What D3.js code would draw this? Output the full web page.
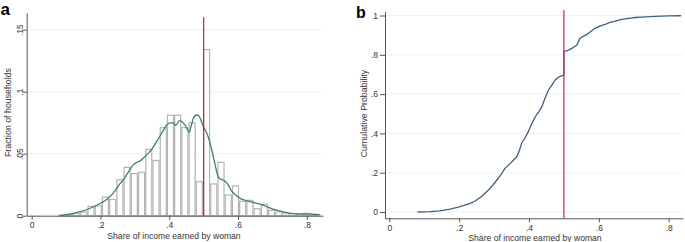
<!DOCTYPE html>
<html>
<head>
<meta charset="utf-8">
<script src="https://cdn.jsdelivr.net/npm/d3@7"></script>
<style>
  body { margin: 0; background: #fff; }
  svg { display: block; font-family: "Liberation Sans", Arial, sans-serif; }
</style>
</head>
<body>
<div id="chart"></div>
<script>
// panel a: histogram (left edge of each bin, fraction of households)
const binLeft = [0.078, 0.099, 0.120, 0.141, 0.162, 0.183, 0.204, 0.225, 0.246, 0.267,
  0.288, 0.309, 0.330, 0.351, 0.372, 0.393, 0.414, 0.435, 0.456, 0.477,
  0.498, 0.519, 0.540, 0.561, 0.582, 0.603, 0.624, 0.645, 0.666, 0.687,
  0.708, 0.729, 0.750, 0.771, 0.792, 0.813];
const binWidth = 0.021;
const binFrac = [0.0004, 0.0008, 0.0016, 0.003, 0.0075, 0.008, 0.015, 0.013, 0.029, 0.039,
  0.034, 0.035, 0.0535, 0.0445, 0.071, 0.081, 0.081, 0.071, 0.075, 0.0274,
  0.134, 0.0256, 0.043, 0.0167, 0.024, 0.0116, 0.0124, 0.0056, 0.0091, 0.0043,
  0.003, 0.0021, 0.0016, 0.0013, 0.0019, 0.0012];

// kernel density line
const densX = [0.081, 0.10, 0.122, 0.14, 0.161, 0.18, 0.2, 0.22, 0.244, 0.257, 0.268, 0.283,
  0.295, 0.317, 0.334, 0.348, 0.363, 0.378, 0.394, 0.404, 0.412, 0.419, 0.429, 0.437,
  0.446, 0.452, 0.458, 0.464, 0.470, 0.478, 0.486, 0.494, 0.499, 0.506, 0.513, 0.520,
  0.528, 0.535, 0.542, 0.549, 0.557, 0.570, 0.581, 0.595, 0.606, 0.620, 0.635, 0.650,
  0.664, 0.688, 0.717, 0.740, 0.756, 0.780, 0.805, 0.839];
const densY = [0, 0.0008, 0.0019, 0.0032, 0.005, 0.0072, 0.010, 0.0135, 0.0207, 0.0258, 0.0295, 0.036,
  0.041, 0.0445, 0.049, 0.053, 0.0597, 0.0665, 0.0735, 0.0748, 0.0748, 0.0728, 0.0766, 0.0758,
  0.073, 0.070, 0.0672, 0.0725, 0.0785, 0.0812, 0.0805, 0.0755, 0.0718, 0.0685, 0.0637, 0.057,
  0.0476, 0.039, 0.0315, 0.0295, 0.0288, 0.0255, 0.020, 0.0162, 0.014, 0.0125, 0.0113, 0.0103,
  0.0094, 0.0067, 0.004, 0.0025, 0.0019, 0.0015, 0.0013, 0.0008];

// panel b: cumulative distribution
const cdfX = [0.081, 0.117, 0.145, 0.174, 0.195, 0.212, 0.230, 0.246, 0.265, 0.284, 0.296, 0.308,
  0.320, 0.331, 0.348, 0.365, 0.372, 0.379, 0.389, 0.398, 0.408, 0.418, 0.428, 0.437,
  0.446, 0.456, 0.465, 0.475, 0.486, 0.5, 0.5, 0.513, 0.525, 0.537, 0.546, 0.556,
  0.566, 0.578, 0.589, 0.603, 0.618, 0.632, 0.647, 0.665, 0.685, 0.705, 0.723, 0.761,
  0.800, 0.835];
const cdfY = [0, 0.0015, 0.006, 0.015, 0.024, 0.032, 0.043, 0.056, 0.08, 0.112, 0.135, 0.163,
  0.19, 0.222, 0.25, 0.281, 0.31, 0.35, 0.378, 0.409, 0.45, 0.485, 0.51, 0.536,
  0.58, 0.621, 0.645, 0.672, 0.688, 0.697, 0.816, 0.824, 0.835, 0.850, 0.884, 0.895,
  0.904, 0.92, 0.935, 0.946, 0.955, 0.965, 0.972, 0.98, 0.986, 0.990, 0.992, 0.996,
  0.998, 0.999];

const xTicks = [0, 0.2, 0.4, 0.6, 0.8];
const yTicksA = [0, 0.05, 0.1, 0.15];
const yTicksB = [0, 0.2, 0.4, 0.6, 0.8, 1];
const cutoff = 0.5;
const xTitle = "Share of income earned by woman";

const fmt = (d) => (d === 0 ? "0" : String(d).replace(/^0/, ""));
const axisColor = "#555", textColor = "#333", gridColor = "#e6f0f1";

const svg = d3.select("#chart").append("svg").attr("width", 685).attr("height", 242);

function styleAxis(g) {
  g.select(".domain").attr("stroke", axisColor);
  g.selectAll(".tick line").attr("stroke", axisColor);
  g.selectAll(".tick text").attr("fill", textColor).style("font-size", "8.5px");
}

// ---------- panel a ----------
const xa = d3.scaleLinear().domain([-0.0145, 0.847]).range([26.7, 323]);
const ya = d3.scaleLinear().domain([0, 0.1637]).range([215.7, 12.7]);

svg.append("g")
  .selectAll("line")
  .data(yTicksA.filter((d) => d > 0))
  .join("line")
  .attr("x1", 27).attr("x2", 323)
  .attr("y1", (d) => ya(d)).attr("y2", (d) => ya(d))
  .attr("stroke", gridColor).attr("stroke-width", 0.8);

svg.append("g")
  .selectAll("rect")
  .data(binFrac)
  .join("rect")
  .attr("x", (d, i) => xa(binLeft[i]) + 0.6)
  .attr("width", (d, i) => xa(binLeft[i] + binWidth) - xa(binLeft[i]) - 1.2)
  .attr("y", (d) => ya(d))
  .attr("height", (d) => ya(0) - ya(d))
  .attr("fill", "#fff")
  .attr("stroke", "#b3b3b3")
  .attr("stroke-width", 1.2);

svg.append("path")
  .datum(densX.map((x, i) => [x, densY[i]]))
  .attr("fill", "none")
  .attr("stroke", "#3d7f79")
  .attr("stroke-width", 1.3)
  .attr("d", d3.line().x((d) => xa(d[0])).y((d) => ya(d[1])).curve(d3.curveMonotoneX));

svg.append("line")
  .attr("x1", xa(cutoff)).attr("x2", xa(cutoff))
  .attr("y1", ya(0)).attr("y2", ya(0.160))
  .attr("stroke", "#e3171d").attr("stroke-width", 1.2);

svg.append("g")
  .attr("transform", "translate(0,215.7)")
  .call(d3.axisBottom(xa).tickValues(xTicks).tickFormat(fmt).tickSize(4).tickPadding(2.4).tickSizeOuter(0))
  .call(styleAxis);

const yAxisA = svg.append("g")
  .attr("transform", "translate(26.7,0)")
  .call(d3.axisLeft(ya).tickValues(yTicksA).tickFormat(fmt).tickSize(3.5).tickSizeOuter(0))
  .call(styleAxis);
yAxisA.selectAll(".tick text")
  .attr("x", null).attr("dy", null)
  .attr("y", -4.2)
  .attr("transform", "rotate(-90)")
  .attr("text-anchor", "middle");

svg.append("text")
  .attr("transform", "translate(10.5,112.5) rotate(-90)")
  .attr("text-anchor", "middle")
  .attr("fill", textColor)
  .style("font-size", "8.8px")
  .text("Fraction of households");

svg.append("text")
  .attr("x", 174).attr("y", 238.8)
  .attr("text-anchor", "middle")
  .attr("fill", textColor)
  .style("font-size", "8.6px")
  .text(xTitle);

svg.append("text")
  .attr("x", 0.5).attr("y", 15)
  .attr("fill", "#000")
  .style("font-size", "17px").style("font-weight", "bold")
  .text("a");

// ---------- panel b ----------
const xb = d3.scaleLinear().domain([-0.0123, 0.841]).range([385, 683]);
const yb = d3.scaleLinear().domain([-0.032, 1.02]).range([218.3, 11.6]);

svg.append("g")
  .selectAll("line")
  .data(yTicksB)
  .join("line")
  .attr("x1", 385.5).attr("x2", 683)
  .attr("y1", (d) => yb(d)).attr("y2", (d) => yb(d))
  .attr("stroke", gridColor).attr("stroke-width", 0.8);

svg.append("path")
  .datum(cdfX.map((x, i) => [x, cdfY[i]]))
  .attr("fill", "none")
  .attr("stroke", "#3e5f85")
  .attr("stroke-width", 1.3)
  .attr("d", d3.line().x((d) => xb(d[0])).y((d) => yb(d[1])));

svg.append("line")
  .attr("x1", xb(cutoff)).attr("x2", xb(cutoff))
  .attr("y1", yb(-0.032)).attr("y2", 10)
  .attr("stroke", "#d8204a").attr("stroke-width", 1.2);

svg.append("g")
  .attr("transform", "translate(0,218.3)")
  .call(d3.axisBottom(xb).tickValues(xTicks).tickFormat(fmt).tickSize(4).tickPadding(2.2).tickSizeOuter(0))
  .call(styleAxis);

svg.append("g")
  .attr("transform", "translate(385,0)")
  .call(d3.axisLeft(yb).tickValues(yTicksB).tickFormat(fmt).tickSize(5).tickPadding(2).tickSizeOuter(0))
  .call(styleAxis);

svg.append("text")
  .attr("transform", "translate(366.5,113.5) rotate(-90)")
  .attr("text-anchor", "middle")
  .attr("fill", textColor)
  .style("font-size", "8.8px")
  .text("Cumulative Probability");

svg.append("text")
  .attr("x", 535).attr("y", 240.5)
  .attr("text-anchor", "middle")
  .attr("fill", textColor)
  .style("font-size", "8.6px")
  .text(xTitle);

svg.append("text")
  .attr("x", 356).attr("y", 18)
  .attr("fill", "#000")
  .style("font-size", "16px").style("font-weight", "bold")
  .text("b");
</script>
</body>
</html>
